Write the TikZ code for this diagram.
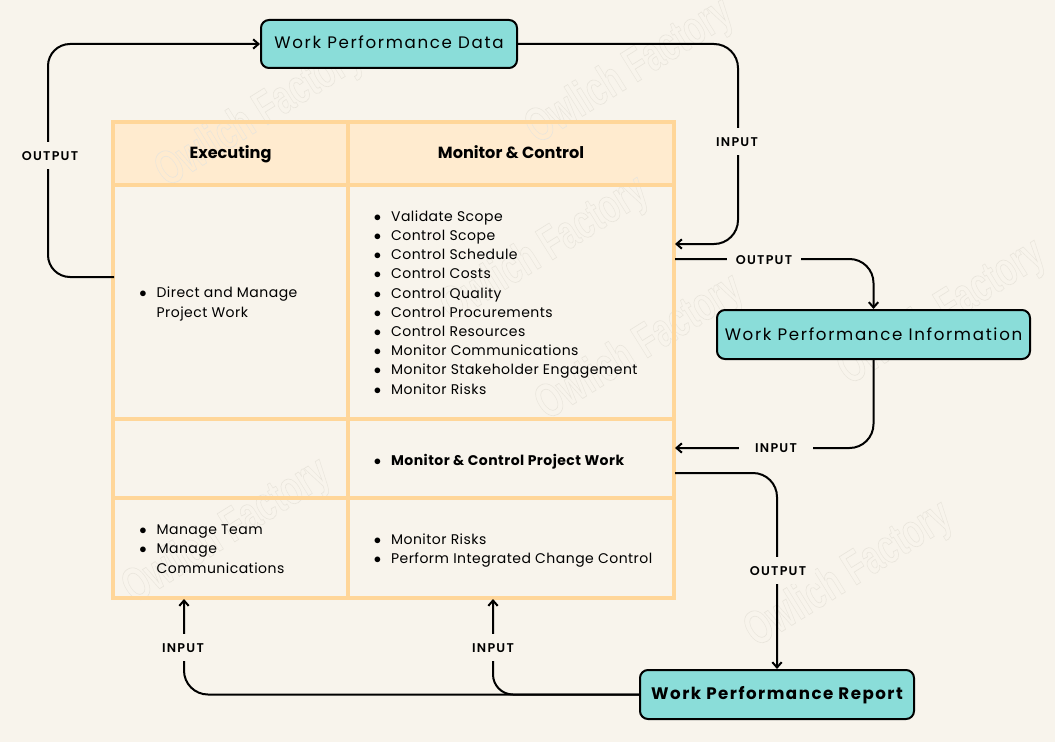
\documentclass[tikz,border=0pt]{standalone}
\usepackage{fontspec}
\usetikzlibrary{arrows.meta}
\setmainfont{Poppins}[LetterSpace=3.3]
\newfontfamily\headfont{Poppins}
\newfontfamily\boxfont[LetterSpace=10]{Poppins}
\newfontfamily\reportfont[LetterSpace=9]{Poppins}
\newfontfamily\tagfont[LetterSpace=10]{Poppins SemiBold}
\newfontfamily\markfont{Liberation Sans}
\definecolor{paper}{HTML}{F8F4EC}
\definecolor{teal}{HTML}{8ADDD9}
\definecolor{tblline}{HTML}{FFD699}
\definecolor{tblhead}{HTML}{FFEBCF}
\definecolor{markgray}{HTML}{E9E5DC}
\newcommand{\bitem}[1]{\makebox[13pt][l]{$\bullet$}#1}
\newcommand{\outlined}[1]{\special{pdf:code 1 Tr 0.5 w}#1\special{pdf:code 0 Tr}}
\tikzset{
    cell/.style={draw=tblline, line width=2.3pt, minimum width=#1, inner sep=0pt},
    back/.style={fill=tblhead, minimum width=#1, minimum height=47.25pt, inner sep=0pt},
    head/.style={text height=1em, text depth=0.2em, font=\headfont\bfseries\fontsize{12.1}{14}\selectfont},
    items/.style={align=left, anchor=west, inner sep=0pt, font=\fontsize{10.5}{14.4}\selectfont},
    wpbox/.style={draw=black, fill=teal, line width=1.5pt, rounded corners=6pt, inner sep=0pt},
    flow/.style={draw=black, line width=1.5pt, rounded corners=18pt},
    tag/.style={fill=paper, inner xsep=6.5pt, inner ysep=6.5pt, text height=7pt, text depth=0pt, font=\tagfont\fontsize{9.5}{10}\selectfont},
    wmark/.style={text=markgray, rotate=32, xscale=0.68, font=\markfont\bfseries\fontsize{36}{38}\selectfont}
}
\begin{document}
\begin{tikzpicture}[x=0.75pt, y=-0.75pt, >={Straight Barb[length=4pt,width=7pt]}]
    \useasboundingbox[fill=paper] (0,0) rectangle (1055,742);

    % Header fills
    \node[back=176.25pt] (execBack) at (230.5,153.5) {};
    \node[back=244.5pt] (ctrlBack) at (511,153.5) {};

    % Watermarks
    \node[wmark] (markA) at (260,115) {\outlined{Owlich Factory}};
    \node[wmark] (markB) at (630,72) {\outlined{Owlich Factory}};
    \node[wmark] (markC) at (545,250) {\outlined{Owlich Factory}};
    \node[wmark] (markD) at (640,348) {\outlined{Owlich Factory}};
    \node[wmark] (markE) at (942,313) {\outlined{Owlich Factory}};
    \node[wmark] (markF) at (227,532) {\outlined{Owlich Factory}};
    \node[wmark] (markG) at (849,575) {\outlined{Owlich Factory}};

    % Table cells
    \node[cell=176.25pt, minimum height=47.25pt, head] (execHead) at (230.5,153.5) {Executing};
    \node[cell=244.5pt, minimum height=47.25pt, head] (ctrlHead) at (511,153.5) {Monitor \& Control};
    \node[cell=176.25pt, minimum height=175.5pt] (execMain) at (230.5,302) {};
    \node[cell=244.5pt, minimum height=175.5pt] (ctrlMain) at (511,302) {};
    \node[cell=176.25pt, minimum height=59.25pt] (execMid) at (230.5,458.5) {};
    \node[cell=244.5pt, minimum height=59.25pt] (ctrlMid) at (511,458.5) {};
    \node[cell=176.25pt, minimum height=75pt] (execLow) at (230.5,548) {};
    \node[cell=244.5pt, minimum height=75pt] (ctrlLow) at (511,548) {};

    % Table texts
    \node[items] (execMainText) at (139,304) {\bitem{Direct and Manage}\\\hspace{13pt}Project Work};
    \node[items] (ctrlMainText) at (373.5,302.5) {\bitem{Validate Scope}\\\bitem{Control Scope}\\\bitem{Control Schedule}\\\bitem{Control Costs}\\\bitem{Control Quality}\\\bitem{Control Procurements}\\\bitem{Control Resources}\\\bitem{Monitor Communications}\\\bitem{Monitor Stakeholder Engagement}\\\bitem{Monitor Risks}};
    \node[items, font=\bfseries\fontsize{10.5}{14.4}\selectfont] (ctrlMidText) at (373.5,462) {\bitem{Monitor \& Control Project Work}};
    \node[items] (execLowText) at (139,549) {\bitem{Manage Team}\\\bitem{Manage}\\\hspace{13pt}Communications};
    \node[items] (ctrlLowText) at (373.5,550.5) {\bitem{Monitor Risks}\\\bitem{Perform Integrated Change Control}};

    % Boxes
    \node[wpbox, minimum width=192pt, minimum height=36pt, text depth=0.3em, font=\boxfont\fontsize{12.5}{14}\selectfont] (wpData) at (389,44) {Work Performance Data};
    \node[wpbox, minimum width=234.75pt, minimum height=36.75pt, font=\boxfont\fontsize{12.5}{14}\selectfont] (wpInfo) at (873.5,334.5) {Work Performance Information};
    \node[wpbox, minimum width=205.5pt, minimum height=36.75pt, text height=1em, text depth=0.25em, font=\reportfont\bfseries\fontsize{12.5}{14}\selectfont] (wpReport) at (777,694.5) {Work Performance Report};

    % Free ends on the table
    \coordinate (outExec) at (114,277);
    \coordinate (inCtrl) at (675,244);
    \coordinate (outCtrl) at (675,259);
    \coordinate (inMid) at (675,448);
    \coordinate (outMid) at (675,473);
    \coordinate (inLowA) at (184,599);
    \coordinate (inLowB) at (493,599);

    % Connectors
    \draw[flow, ->, rounded corners=16.5pt] (outExec) -- (48,277) -- (48,44) -- (wpData.west);
    \draw[flow, ->] (wpData.east) -- (738,44) -- (738,244) -- (inCtrl);
    \draw[flow, ->] (outCtrl) -| (wpInfo.north);
    \draw[flow, ->] (wpInfo.south) |- (inMid);
    \draw[flow, ->] (outMid) -| (wpReport.north);
    \draw[flow, ->] (wpReport.west) -| (inLowA);
    \draw[flow, ->, rounded corners=15pt] (wpReport.west) -| (inLowB);

    % Labels
    \node[tag] (tagA) at (50,155.5) {OUTPUT};
    \node[tag] (tagB) at (737,141.5) {INPUT};
    \node[tag] (tagC) at (764,259.5) {OUTPUT};
    \node[tag, inner xsep=12pt] (tagD) at (776,447.5) {INPUT};
    \node[tag] (tagE) at (778,570.5) {OUTPUT};
    \node[tag] (tagF) at (183,647.5) {INPUT};
    \node[tag] (tagG) at (493,647.5) {INPUT};
\end{tikzpicture}
\end{document}
